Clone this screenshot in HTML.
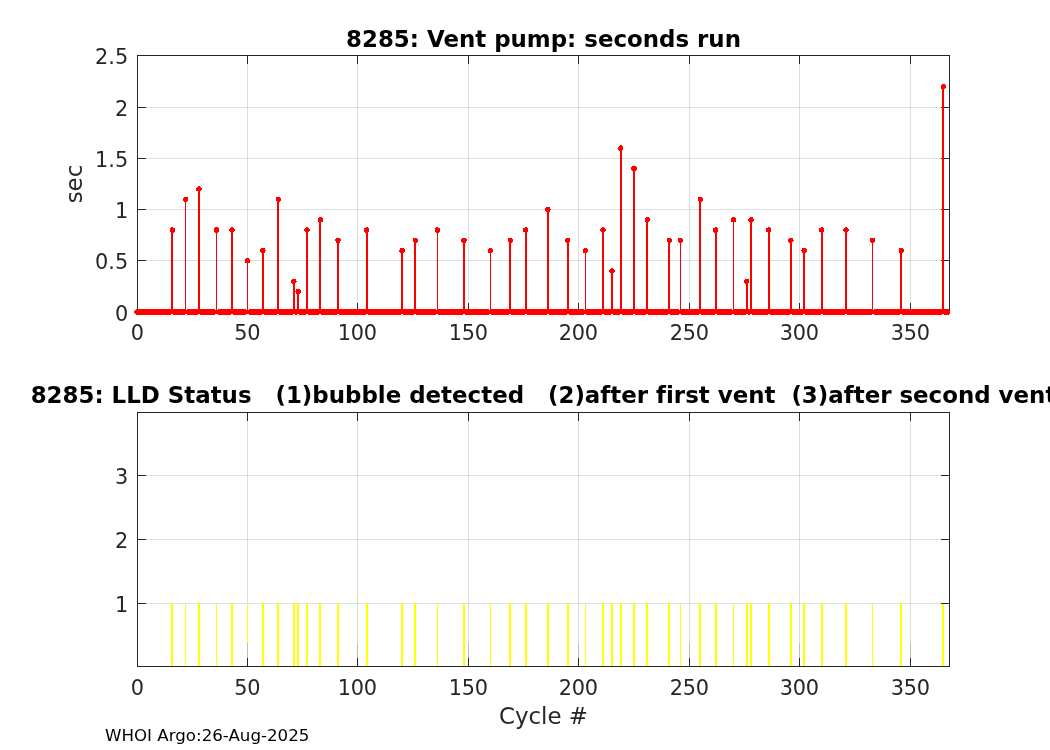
<!DOCTYPE html>
<html><head><meta charset="utf-8"><title>8285 Vent pump</title>
<style>html,body{margin:0;padding:0;background:#fff;width:1050px;height:750px;overflow:hidden}svg{display:block;will-change:transform}text{font-variant-ligatures:none;font-feature-settings:"liga" 0,"kern" 1}</style>
</head><body>
<svg width="1050" height="750" viewBox="0 0 1050 750">
<rect width="1050" height="750" fill="#fff"/>
<rect x="247" y="56" width="1" height="256" fill="rgba(38,38,38,0.15)"/><rect x="357" y="56" width="1" height="256" fill="rgba(38,38,38,0.15)"/><rect x="468" y="56" width="1" height="256" fill="rgba(38,38,38,0.15)"/><rect x="578" y="56" width="1" height="256" fill="rgba(38,38,38,0.15)"/><rect x="689" y="56" width="1" height="256" fill="rgba(38,38,38,0.15)"/><rect x="799" y="56" width="1" height="256" fill="rgba(38,38,38,0.15)"/><rect x="910" y="56" width="1" height="256" fill="rgba(38,38,38,0.15)"/><rect x="138" y="260" width="811" height="1" fill="rgba(38,38,38,0.15)"/><rect x="138" y="209" width="811" height="1" fill="rgba(38,38,38,0.15)"/><rect x="138" y="158" width="811" height="1" fill="rgba(38,38,38,0.15)"/><rect x="138" y="107" width="811" height="1" fill="rgba(38,38,38,0.15)"/><rect x="137" y="55" width="813" height="1" fill="#262626"/><rect x="137" y="312" width="813" height="1" fill="#262626"/><rect x="137" y="55" width="1" height="258" fill="#262626"/><rect x="949" y="55" width="1" height="258" fill="#262626"/><rect x="137" y="55" width="1" height="9" fill="#262626"/><rect x="137" y="303" width="1" height="9" fill="#262626"/><rect x="247" y="55" width="1" height="9" fill="#262626"/><rect x="247" y="303" width="1" height="9" fill="#262626"/><rect x="357" y="55" width="1" height="9" fill="#262626"/><rect x="357" y="303" width="1" height="9" fill="#262626"/><rect x="468" y="55" width="1" height="9" fill="#262626"/><rect x="468" y="303" width="1" height="9" fill="#262626"/><rect x="578" y="55" width="1" height="9" fill="#262626"/><rect x="578" y="303" width="1" height="9" fill="#262626"/><rect x="689" y="55" width="1" height="9" fill="#262626"/><rect x="689" y="303" width="1" height="9" fill="#262626"/><rect x="799" y="55" width="1" height="9" fill="#262626"/><rect x="799" y="303" width="1" height="9" fill="#262626"/><rect x="910" y="55" width="1" height="9" fill="#262626"/><rect x="910" y="303" width="1" height="9" fill="#262626"/><rect x="137" y="312" width="9" height="1" fill="#262626"/><rect x="941" y="312" width="9" height="1" fill="#262626"/><rect x="137" y="260" width="9" height="1" fill="#262626"/><rect x="941" y="260" width="9" height="1" fill="#262626"/><rect x="137" y="209" width="9" height="1" fill="#262626"/><rect x="941" y="209" width="9" height="1" fill="#262626"/><rect x="137" y="158" width="9" height="1" fill="#262626"/><rect x="941" y="158" width="9" height="1" fill="#262626"/><rect x="137" y="107" width="9" height="1" fill="#262626"/><rect x="941" y="107" width="9" height="1" fill="#262626"/><rect x="137" y="55" width="9" height="1" fill="#262626"/><rect x="941" y="55" width="9" height="1" fill="#262626"/><rect x="171" y="230.05" width="2" height="81.95" fill="#ff0000"/><rect x="185" y="199.32" width="1" height="112.68" fill="#ff0000"/><rect x="198" y="189.07" width="2" height="122.93" fill="#ff0000"/><rect x="216" y="230.05" width="1" height="81.95" fill="#ff0000"/><rect x="231" y="230.05" width="2" height="81.95" fill="#ff0000"/><rect x="247" y="260.78" width="1" height="51.22" fill="#ff0000"/><rect x="262" y="250.54" width="2" height="61.46" fill="#ff0000"/><rect x="277" y="199.32" width="2" height="112.68" fill="#ff0000"/><rect x="293" y="281.27" width="2" height="30.73" fill="#ff0000"/><rect x="297" y="291.51" width="2" height="20.49" fill="#ff0000"/><rect x="306" y="230.05" width="2" height="81.95" fill="#ff0000"/><rect x="319" y="219.8" width="2" height="92.2" fill="#ff0000"/><rect x="337" y="240.29" width="2" height="71.71" fill="#ff0000"/><rect x="366" y="230.05" width="2" height="81.95" fill="#ff0000"/><rect x="401" y="250.54" width="2" height="61.46" fill="#ff0000"/><rect x="414" y="240.29" width="2" height="71.71" fill="#ff0000"/><rect x="437" y="230.05" width="1" height="81.95" fill="#ff0000"/><rect x="463" y="240.29" width="2" height="71.71" fill="#ff0000"/><rect x="490" y="250.54" width="1" height="61.46" fill="#ff0000"/><rect x="509" y="240.29" width="2" height="71.71" fill="#ff0000"/><rect x="525" y="230.05" width="2" height="81.95" fill="#ff0000"/><rect x="547" y="209.56" width="2" height="102.44" fill="#ff0000"/><rect x="567" y="240.29" width="2" height="71.71" fill="#ff0000"/><rect x="585" y="250.54" width="1" height="61.46" fill="#ff0000"/><rect x="602" y="230.05" width="2" height="81.95" fill="#ff0000"/><rect x="611" y="271.02" width="2" height="40.98" fill="#ff0000"/><rect x="620" y="148.1" width="2" height="163.9" fill="#ff0000"/><rect x="633" y="168.58" width="2" height="143.42" fill="#ff0000"/><rect x="646" y="219.8" width="2" height="92.2" fill="#ff0000"/><rect x="668" y="240.29" width="2" height="71.71" fill="#ff0000"/><rect x="680" y="240.29" width="1" height="71.71" fill="#ff0000"/><rect x="699" y="199.32" width="2" height="112.68" fill="#ff0000"/><rect x="715" y="230.05" width="2" height="81.95" fill="#ff0000"/><rect x="733" y="219.8" width="1" height="92.2" fill="#ff0000"/><rect x="746" y="281.27" width="2" height="30.73" fill="#ff0000"/><rect x="750" y="219.8" width="2" height="92.2" fill="#ff0000"/><rect x="768" y="230.05" width="2" height="81.95" fill="#ff0000"/><rect x="790" y="240.29" width="2" height="71.71" fill="#ff0000"/><rect x="803" y="250.54" width="2" height="61.46" fill="#ff0000"/><rect x="821" y="230.05" width="2" height="81.95" fill="#ff0000"/><rect x="845" y="230.05" width="2" height="81.95" fill="#ff0000"/><rect x="872" y="240.29" width="1" height="71.71" fill="#ff0000"/><rect x="900" y="250.54" width="2" height="61.46" fill="#ff0000"/><rect x="942" y="86.63" width="2" height="225.37" fill="#ff0000"/><path fill="#ff0000" d="M942 84h3v1h-3zM941 85h5v1h-5zM941 86h5v1h-5zM941 87h5v1h-5zM941 88h4v1h-4zM620 145h2v1h-2zM619 146h4v1h-4zM618 147h5v1h-5zM618 148h5v1h-5zM618 149h5v1h-5zM619 150h3v1h-3zM632 166h4v1h-4zM631 167h6v1h-6zM631 168h6v1h-6zM631 169h6v1h-6zM632 170h4v1h-4zM198 186h2v1h-2zM197 187h4v1h-4zM196 188h6v1h-6zM196 189h6v1h-6zM196 190h5v1h-5zM198 191h2v1h-2zM184 197h4v1h-4zM276 197h4v1h-4zM698 197h4v1h-4zM183 198h5v1h-5zM276 198h5v1h-5zM698 198h5v1h-5zM183 199h5v1h-5zM276 199h5v1h-5zM698 199h5v1h-5zM183 200h5v1h-5zM276 200h5v1h-5zM698 200h5v1h-5zM184 201h3v1h-3zM277 201h3v1h-3zM699 201h3v1h-3zM546 207h4v1h-4zM545 208h5v1h-5zM545 209h6v1h-6zM545 210h5v1h-5zM546 211h4v1h-4zM319 217h3v1h-3zM646 217h3v1h-3zM732 217h3v1h-3zM750 217h3v1h-3zM318 218h5v1h-5zM645 218h5v1h-5zM731 218h5v1h-5zM749 218h4v1h-4zM318 219h5v1h-5zM645 219h5v1h-5zM731 219h5v1h-5zM748 219h6v1h-6zM318 220h5v1h-5zM645 220h5v1h-5zM731 220h5v1h-5zM748 220h6v1h-6zM318 221h5v1h-5zM645 221h4v1h-4zM731 221h5v1h-5zM749 221h4v1h-4zM320 222h1v1h-1zM647 222h1v1h-1zM733 222h1v1h-1zM751 222h1v1h-1zM171 227h2v1h-2zM215 227h3v1h-3zM231 227h2v1h-2zM306 227h2v1h-2zM366 227h2v1h-2zM436 227h2v1h-2zM525 227h2v1h-2zM602 227h2v1h-2zM715 227h2v1h-2zM768 227h2v1h-2zM821 227h2v1h-2zM845 227h2v1h-2zM170 228h5v1h-5zM214 228h5v1h-5zM230 228h4v1h-4zM305 228h4v1h-4zM364 228h5v1h-5zM435 228h5v1h-5zM523 228h5v1h-5zM601 228h4v1h-4zM713 228h5v1h-5zM766 228h5v1h-5zM819 228h5v1h-5zM844 228h4v1h-4zM170 229h5v1h-5zM214 229h5v1h-5zM229 229h6v1h-6zM304 229h6v1h-6zM364 229h5v1h-5zM435 229h5v1h-5zM523 229h5v1h-5zM600 229h6v1h-6zM713 229h5v1h-5zM766 229h5v1h-5zM819 229h5v1h-5zM843 229h6v1h-6zM170 230h5v1h-5zM214 230h5v1h-5zM229 230h6v1h-6zM304 230h6v1h-6zM364 230h5v1h-5zM435 230h5v1h-5zM523 230h5v1h-5zM600 230h6v1h-6zM713 230h5v1h-5zM766 230h5v1h-5zM819 230h5v1h-5zM843 230h6v1h-6zM170 231h5v1h-5zM214 231h5v1h-5zM230 231h4v1h-4zM305 231h4v1h-4zM364 231h5v1h-5zM435 231h5v1h-5zM523 231h5v1h-5zM601 231h4v1h-4zM713 231h5v1h-5zM766 231h5v1h-5zM819 231h5v1h-5zM844 231h4v1h-4zM171 232h3v1h-3zM215 232h3v1h-3zM231 232h2v1h-2zM306 232h2v1h-2zM365 232h3v1h-3zM436 232h3v1h-3zM525 232h2v1h-2zM602 232h2v1h-2zM714 232h3v1h-3zM768 232h2v1h-2zM821 232h2v1h-2zM845 232h2v1h-2zM336 238h4v1h-4zM413 238h4v1h-4zM462 238h4v1h-4zM508 238h4v1h-4zM566 238h4v1h-4zM667 238h4v1h-4zM678 238h4v1h-4zM789 238h4v1h-4zM870 238h5v1h-5zM335 239h6v1h-6zM413 239h5v1h-5zM461 239h6v1h-6zM508 239h5v1h-5zM565 239h5v1h-5zM667 239h5v1h-5zM678 239h5v1h-5zM788 239h5v1h-5zM870 239h5v1h-5zM335 240h6v1h-6zM413 240h5v1h-5zM461 240h6v1h-6zM508 240h5v1h-5zM565 240h5v1h-5zM667 240h5v1h-5zM678 240h5v1h-5zM788 240h6v1h-6zM870 240h5v1h-5zM336 241h4v1h-4zM413 241h5v1h-5zM461 241h5v1h-5zM508 241h5v1h-5zM565 241h5v1h-5zM667 241h5v1h-5zM678 241h5v1h-5zM788 241h5v1h-5zM870 241h5v1h-5zM336 242h4v1h-4zM414 242h3v1h-3zM462 242h4v1h-4zM509 242h3v1h-3zM566 242h3v1h-3zM668 242h3v1h-3zM679 242h3v1h-3zM789 242h3v1h-3zM871 242h3v1h-3zM261 248h4v1h-4zM400 248h4v1h-4zM489 248h3v1h-3zM584 248h3v1h-3zM802 248h4v1h-4zM899 248h4v1h-4zM260 249h5v1h-5zM400 249h5v1h-5zM488 249h5v1h-5zM583 249h5v1h-5zM802 249h5v1h-5zM899 249h5v1h-5zM260 250h6v1h-6zM399 250h6v1h-6zM488 250h5v1h-5zM583 250h5v1h-5zM801 250h6v1h-6zM899 250h5v1h-5zM260 251h5v1h-5zM399 251h6v1h-6zM488 251h5v1h-5zM583 251h5v1h-5zM802 251h5v1h-5zM899 251h5v1h-5zM261 252h4v1h-4zM400 252h4v1h-4zM488 252h4v1h-4zM583 252h4v1h-4zM802 252h4v1h-4zM899 252h4v1h-4zM246 258h3v1h-3zM245 259h5v1h-5zM245 260h5v1h-5zM245 261h5v1h-5zM245 262h5v1h-5zM247 263h1v1h-1zM611 268h2v1h-2zM610 269h4v1h-4zM609 270h6v1h-6zM609 271h6v1h-6zM610 272h4v1h-4zM611 273h2v1h-2zM292 279h4v1h-4zM745 279h4v1h-4zM291 280h5v1h-5zM744 280h5v1h-5zM291 281h6v1h-6zM744 281h5v1h-5zM291 282h5v1h-5zM744 282h5v1h-5zM292 283h3v1h-3zM745 283h3v1h-3zM296 289h4v1h-4zM296 290h5v1h-5zM295 291h6v1h-6zM296 292h5v1h-5zM296 293h4v1h-4zM136 309h35v1h-35zM173 309h12v1h-12zM187 309h11v1h-11zM200 309h15v1h-15zM218 309h13v1h-13zM233 309h13v1h-13zM249 309h13v1h-13zM264 309h13v1h-13zM279 309h14v1h-14zM295 309h2v1h-2zM299 309h7v1h-7zM308 309h11v1h-11zM321 309h16v1h-16zM339 309h27v1h-27zM368 309h33v1h-33zM403 309h11v1h-11zM416 309h20v1h-20zM438 309h25v1h-25zM465 309h24v1h-24zM491 309h18v1h-18zM511 309h14v1h-14zM527 309h20v1h-20zM549 309h18v1h-18zM569 309h15v1h-15zM586 309h16v1h-16zM604 309h7v1h-7zM613 309h7v1h-7zM622 309h11v1h-11zM635 309h11v1h-11zM648 309h20v1h-20zM670 309h9v1h-9zM681 309h18v1h-18zM701 309h14v1h-14zM717 309h15v1h-15zM734 309h12v1h-12zM748 309h2v1h-2zM752 309h16v1h-16zM770 309h20v1h-20zM792 309h11v1h-11zM805 309h16v1h-16zM823 309h22v1h-22zM847 309h25v1h-25zM874 309h26v1h-26zM902 309h40v1h-40zM944 309h5v1h-5zM135 310h815v1h-815zM134 311h816v1h-816zM134 312h816v1h-816zM135 313h815v1h-815zM136 314h35v1h-35zM173 314h12v1h-12zM187 314h11v1h-11zM200 314h15v1h-15zM218 314h13v1h-13zM233 314h13v1h-13zM249 314h13v1h-13zM264 314h13v1h-13zM279 314h14v1h-14zM295 314h2v1h-2zM299 314h7v1h-7zM308 314h11v1h-11zM321 314h16v1h-16zM339 314h27v1h-27zM368 314h33v1h-33zM403 314h11v1h-11zM416 314h20v1h-20zM438 314h25v1h-25zM465 314h24v1h-24zM491 314h18v1h-18zM511 314h14v1h-14zM527 314h20v1h-20zM549 314h18v1h-18zM569 314h15v1h-15zM586 314h16v1h-16zM604 314h7v1h-7zM613 314h7v1h-7zM622 314h11v1h-11zM635 314h11v1h-11zM648 314h20v1h-20zM670 314h9v1h-9zM681 314h18v1h-18zM701 314h14v1h-14zM717 314h15v1h-15zM734 314h12v1h-12zM748 314h2v1h-2zM752 314h16v1h-16zM770 314h20v1h-20zM792 314h11v1h-11zM805 314h16v1h-16zM823 314h22v1h-22zM847 314h25v1h-25zM874 314h26v1h-26zM902 314h40v1h-40zM944 314h5v1h-5z"/><rect x="247" y="413" width="1" height="253" fill="rgba(38,38,38,0.15)"/><rect x="357" y="413" width="1" height="253" fill="rgba(38,38,38,0.15)"/><rect x="468" y="413" width="1" height="253" fill="rgba(38,38,38,0.15)"/><rect x="578" y="413" width="1" height="253" fill="rgba(38,38,38,0.15)"/><rect x="689" y="413" width="1" height="253" fill="rgba(38,38,38,0.15)"/><rect x="799" y="413" width="1" height="253" fill="rgba(38,38,38,0.15)"/><rect x="910" y="413" width="1" height="253" fill="rgba(38,38,38,0.15)"/><rect x="138" y="603" width="811" height="1" fill="rgba(38,38,38,0.15)"/><rect x="138" y="539" width="811" height="1" fill="rgba(38,38,38,0.15)"/><rect x="138" y="475" width="811" height="1" fill="rgba(38,38,38,0.15)"/><rect x="171" y="603" width="2" height="63" fill="#ffff00"/><rect x="185" y="603" width="1" height="63" fill="#ffff00"/><rect x="198" y="603" width="2" height="63" fill="#ffff00"/><rect x="216" y="603" width="1" height="63" fill="#ffff00"/><rect x="231" y="603" width="2" height="63" fill="#ffff00"/><rect x="247" y="603" width="1" height="63" fill="#ffff00"/><rect x="262" y="603" width="2" height="63" fill="#ffff00"/><rect x="277" y="603" width="2" height="63" fill="#ffff00"/><rect x="293" y="603" width="2" height="63" fill="#ffff00"/><rect x="297" y="603" width="2" height="63" fill="#ffff00"/><rect x="306" y="603" width="2" height="63" fill="#ffff00"/><rect x="319" y="603" width="2" height="63" fill="#ffff00"/><rect x="337" y="603" width="2" height="63" fill="#ffff00"/><rect x="366" y="603" width="2" height="63" fill="#ffff00"/><rect x="401" y="603" width="2" height="63" fill="#ffff00"/><rect x="414" y="603" width="2" height="63" fill="#ffff00"/><rect x="437" y="603" width="1" height="63" fill="#ffff00"/><rect x="463" y="603" width="2" height="63" fill="#ffff00"/><rect x="490" y="603" width="1" height="63" fill="#ffff00"/><rect x="509" y="603" width="2" height="63" fill="#ffff00"/><rect x="525" y="603" width="2" height="63" fill="#ffff00"/><rect x="547" y="603" width="2" height="63" fill="#ffff00"/><rect x="567" y="603" width="2" height="63" fill="#ffff00"/><rect x="585" y="603" width="1" height="63" fill="#ffff00"/><rect x="602" y="603" width="2" height="63" fill="#ffff00"/><rect x="611" y="603" width="2" height="63" fill="#ffff00"/><rect x="620" y="603" width="2" height="63" fill="#ffff00"/><rect x="633" y="603" width="2" height="63" fill="#ffff00"/><rect x="646" y="603" width="2" height="63" fill="#ffff00"/><rect x="668" y="603" width="2" height="63" fill="#ffff00"/><rect x="680" y="603" width="1" height="63" fill="#ffff00"/><rect x="699" y="603" width="2" height="63" fill="#ffff00"/><rect x="715" y="603" width="2" height="63" fill="#ffff00"/><rect x="733" y="603" width="1" height="63" fill="#ffff00"/><rect x="746" y="603" width="2" height="63" fill="#ffff00"/><rect x="750" y="603" width="2" height="63" fill="#ffff00"/><rect x="768" y="603" width="2" height="63" fill="#ffff00"/><rect x="790" y="603" width="2" height="63" fill="#ffff00"/><rect x="803" y="603" width="2" height="63" fill="#ffff00"/><rect x="821" y="603" width="2" height="63" fill="#ffff00"/><rect x="845" y="603" width="2" height="63" fill="#ffff00"/><rect x="872" y="603" width="1" height="63" fill="#ffff00"/><rect x="900" y="603" width="2" height="63" fill="#ffff00"/><rect x="942" y="603" width="2" height="63" fill="#ffff00"/><rect x="137" y="412" width="813" height="1" fill="#262626"/><rect x="137" y="666" width="813" height="1" fill="#262626"/><rect x="137" y="412" width="1" height="255" fill="#262626"/><rect x="949" y="412" width="1" height="255" fill="#262626"/><rect x="137" y="412" width="1" height="9" fill="#262626"/><rect x="137" y="658" width="1" height="9" fill="#262626"/><rect x="247" y="412" width="1" height="9" fill="#262626"/><rect x="247" y="658" width="1" height="9" fill="#262626"/><rect x="247" y="643" width="1" height="15" fill="#bdbdbd"/><rect x="357" y="412" width="1" height="9" fill="#262626"/><rect x="357" y="658" width="1" height="9" fill="#262626"/><rect x="357" y="643" width="1" height="15" fill="#bdbdbd"/><rect x="468" y="412" width="1" height="9" fill="#262626"/><rect x="468" y="658" width="1" height="9" fill="#262626"/><rect x="468" y="643" width="1" height="15" fill="#bdbdbd"/><rect x="578" y="412" width="1" height="9" fill="#262626"/><rect x="578" y="658" width="1" height="9" fill="#262626"/><rect x="578" y="643" width="1" height="15" fill="#bdbdbd"/><rect x="689" y="412" width="1" height="9" fill="#262626"/><rect x="689" y="658" width="1" height="9" fill="#262626"/><rect x="689" y="643" width="1" height="15" fill="#bdbdbd"/><rect x="799" y="412" width="1" height="9" fill="#262626"/><rect x="799" y="658" width="1" height="9" fill="#262626"/><rect x="799" y="643" width="1" height="15" fill="#bdbdbd"/><rect x="910" y="412" width="1" height="9" fill="#262626"/><rect x="910" y="658" width="1" height="9" fill="#262626"/><rect x="910" y="643" width="1" height="15" fill="#bdbdbd"/><rect x="137" y="603" width="9" height="1" fill="#262626"/><rect x="941" y="603" width="9" height="1" fill="#262626"/><rect x="137" y="539" width="9" height="1" fill="#262626"/><rect x="941" y="539" width="9" height="1" fill="#262626"/><rect x="137" y="475" width="9" height="1" fill="#262626"/><rect x="941" y="475" width="9" height="1" fill="#262626"/>
<g font-family="DejaVu Sans, Liberation Sans, sans-serif" font-size="20.83" letter-spacing="-0.25" fill="#262626"><text x="137.25" y="340" text-anchor="middle">0</text><text x="137.25" y="695" text-anchor="middle">0</text><text x="247.25" y="340" text-anchor="middle">50</text><text x="247.25" y="695" text-anchor="middle">50</text><text x="357.25" y="340" text-anchor="middle">100</text><text x="357.25" y="695" text-anchor="middle">100</text><text x="468.25" y="340" text-anchor="middle">150</text><text x="468.25" y="695" text-anchor="middle">150</text><text x="578.25" y="340" text-anchor="middle">200</text><text x="578.25" y="695" text-anchor="middle">200</text><text x="689.25" y="340" text-anchor="middle">250</text><text x="689.25" y="695" text-anchor="middle">250</text><text x="799.25" y="340" text-anchor="middle">300</text><text x="799.25" y="695" text-anchor="middle">300</text><text x="910.25" y="340" text-anchor="middle">350</text><text x="910.25" y="695" text-anchor="middle">350</text><text x="128.2" y="320.5" text-anchor="end" letter-spacing="0">0</text><text x="128.2" y="268.5" text-anchor="end" letter-spacing="0">0.5</text><text x="128.2" y="217.5" text-anchor="end" letter-spacing="0">1</text><text x="128.2" y="166.5" text-anchor="end" letter-spacing="0">1.5</text><text x="128.2" y="115.5" text-anchor="end" letter-spacing="0">2</text><text x="128.2" y="63.5" text-anchor="end" letter-spacing="0">2.5</text><text x="128.2" y="611.5" text-anchor="end" letter-spacing="0">1</text><text x="128.2" y="547.5" text-anchor="end" letter-spacing="0">2</text><text x="128.2" y="483.5" text-anchor="end" letter-spacing="0">3</text></g>
<g font-family="DejaVu Sans, Liberation Sans, sans-serif" fill="#262626" font-size="22.92">
<text x="543.5" y="723.5" text-anchor="middle">Cycle #</text>
<text transform="translate(82 184) rotate(-90)" text-anchor="middle">sec</text>
</g>
<g font-family="DejaVu Sans, Liberation Sans, sans-serif" font-weight="bold" font-size="22.92" fill="#000">
<text x="543.5" y="47" text-anchor="middle">8285: Vent pump: seconds run</text>
<text x="543.5" y="403" text-anchor="middle" xml:space="preserve" style="white-space:pre">8285: LLD Status   (1)bubble detected   (2)after first vent  (3)after second vent</text>
</g>
<text x="105" y="740.5" font-family="DejaVu Sans, Liberation Sans, sans-serif" font-size="16.67" fill="#000">WHOI Argo:26-Aug-2025</text>

</svg>
</body></html>
